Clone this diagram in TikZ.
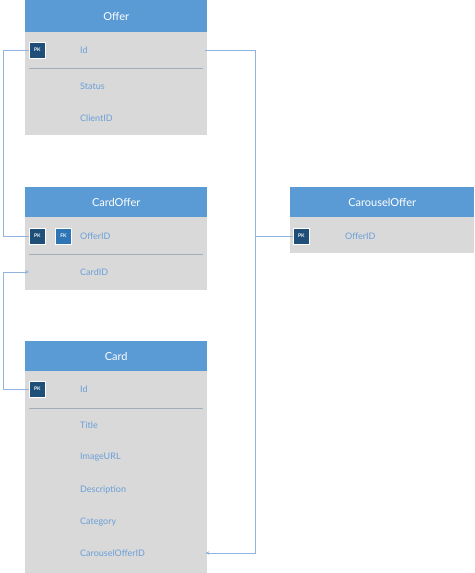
\documentclass[tikz,border=0pt]{standalone}
\usepackage{fontspec}
\setmainfont{Lato}
\usetikzlibrary{positioning, arrows.meta}
\definecolor{headercol}{HTML}{5B9BD5}
\definecolor{bodycol}{HTML}{D9D9D9}
\definecolor{fieldcol}{HTML}{6A9FD8}
\definecolor{pkcol}{HTML}{1F4E79}
\definecolor{fkcol}{HTML}{2E75B6}
\definecolor{linkcol}{HTML}{8FB4DF}
\definecolor{rulecol}{HTML}{A3ADB9}

\begin{document}
\begin{tikzpicture}[x=1pt, y=1pt,
  header/.style={fill=headercol, text=white, minimum width=182pt, minimum height=30pt, anchor=north west, inner sep=0pt, font=\fontsize{11}{13}\selectfont},
  tablebody/.style={fill=bodycol, minimum width=182pt, anchor=north west, inner sep=0pt},
  field/.style={anchor=west, inner sep=0pt, text width=176pt, minimum height=14pt, text=fieldcol, font=\fontsize{9}{11}\selectfont},
  keybox/.style={fill=#1, draw=white, line width=0.8pt, minimum size=16pt, inner sep=0pt, text=white, font=\fontsize{5}{6}\bfseries\selectfont, anchor=west},
  keyrule/.style={draw=rulecol, line width=0.8pt},
  link/.style={draw=linkcol, line width=0.8pt}]

\useasboundingbox (0,0) rectangle (474,-573);

% Offer
\node[header, minimum height=32pt] (offer) at (25,0) {Offer};
\node[tablebody, minimum height=103pt] (offerbody) at (25,-32) {};
\node[field] (offerid) at (29,-50) {\hspace*{51pt}Id};
\node[keybox=pkcol] (offerpk) at (29,-50) {PK};
\draw[keyrule] (29,-68) -- (203,-68);
\node[field] (offerstatus) at (29,-86) {\hspace*{51pt}Status};
\node[field] (offerclient) at (29,-118) {\hspace*{51pt}ClientID};

% CardOffer
\node[header] (cardoffer) at (25,-187) {CardOffer};
\node[tablebody, minimum height=73pt] (cardofferbody) at (25,-217) {};
\node[field] (cardofferofferid) at (29,-236) {\hspace*{51pt}OfferID};
\node[keybox=pkcol] (cardofferpk) at (29,-236) {PK};
\node[keybox=fkcol] (cardofferfk) at (55,-236) {FK};
\draw[keyrule] (29,-254) -- (203,-254);
\node[field] (cardoffercardid) at (29,-272) {\hspace*{51pt}CardID};

% CarouselOffer
\node[header, minimum width=184pt] (carousel) at (290,-187) {CarouselOffer};
\node[tablebody, minimum width=184pt, minimum height=36pt] (carouselbody) at (290,-217) {};
\node[field] (carouselofferid) at (293,-236) {\hspace*{52pt}OfferID};
\node[keybox=pkcol] (carouselpk) at (293,-236) {PK};

% Card
\node[header] (card) at (25,-341) {Card};
\node[tablebody, minimum height=202pt] (cardbody) at (25,-371) {};
\node[field] (cardid) at (29,-389) {\hspace*{51pt}Id};
\node[keybox=pkcol] (cardpk) at (29,-389) {PK};
\draw[keyrule] (29,-408) -- (203,-408);
\node[field] (cardtitle) at (29,-425) {\hspace*{51pt}Title};
\node[field] (cardimage) at (29,-457) {\hspace*{51pt}ImageURL};
\node[field] (carddesc) at (29,-490) {\hspace*{51pt}Description};
\node[field] (cardcategory) at (29,-522) {\hspace*{51pt}Category};
\node[field] (cardcarousel) at (29,-553) {\hspace*{51pt}CarouselOfferID};

% Links
\draw[link] (offerpk.west) -- ++(-26,0) |- (cardofferpk.west);
\draw[link, -{Stealth[length=4pt, width=3.5pt]}] (cardpk.west) -- ++(-26,0) |- (cardoffercardid.west);
\draw[link, -{Stealth[length=4pt, width=3.5pt]}] (offerid.east) -- ++(50,0) coordinate (offerbus) |- (cardcarousel.east);
\draw[link] (offerbus |- carouselpk.west) -- (carouselpk.west);
\end{tikzpicture}
\end{document}
